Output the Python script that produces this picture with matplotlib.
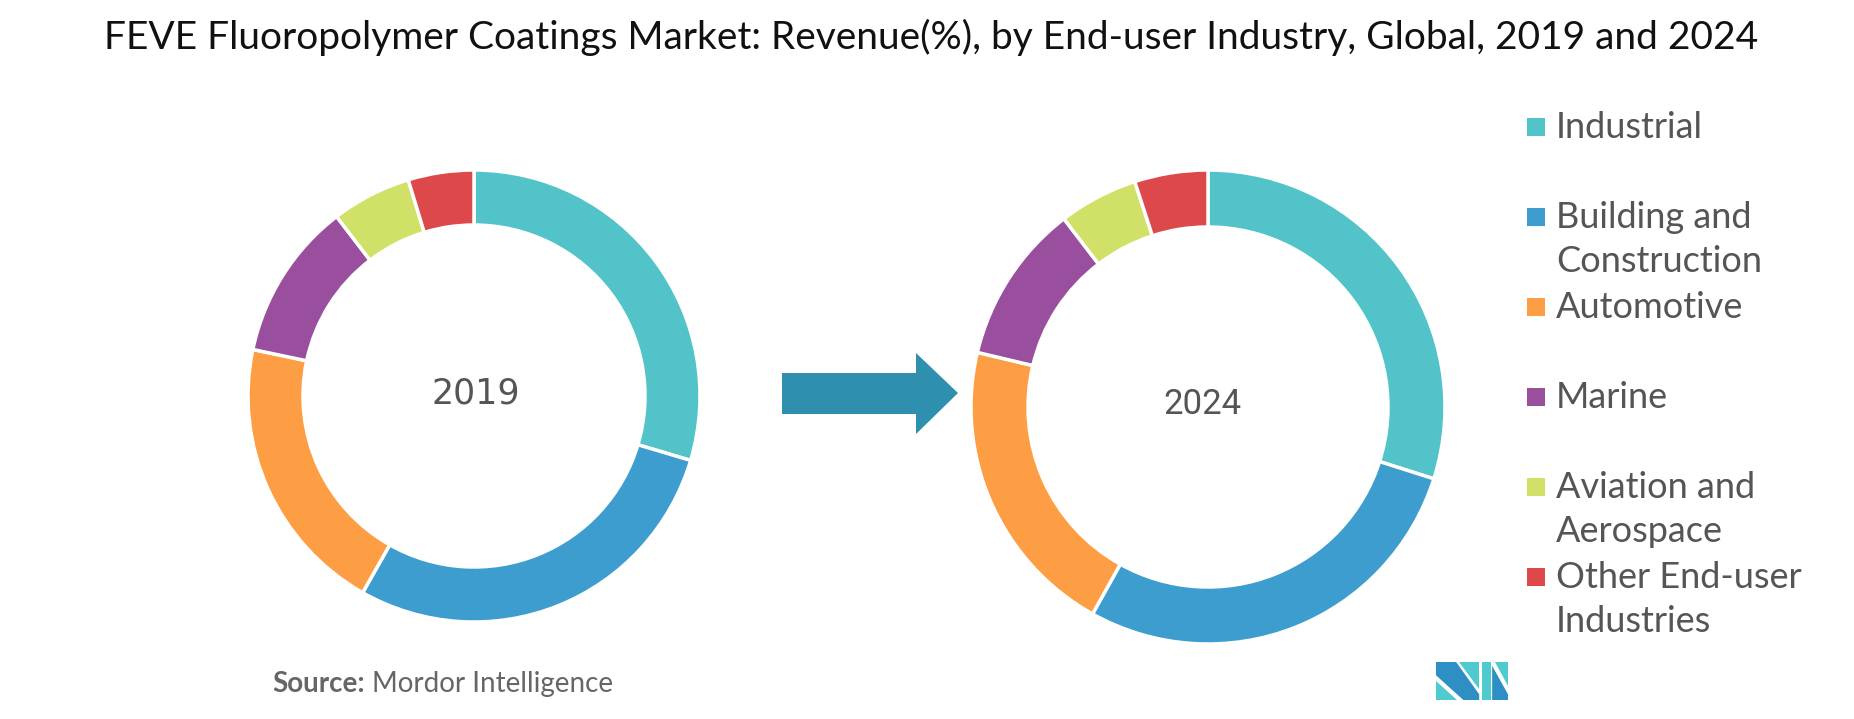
import matplotlib.pyplot as plt
from matplotlib.patches import Polygon, Rectangle

# Categories and shares (%)
categories = ["Industrial", "Building and\nConstruction", "Automotive",
              "Marine", "Aviation and\nAerospace", "Other End-user\nIndustries"]
share_2019 = [29.6, 28.6, 20.1, 11.3, 5.7, 4.7]
share_2024 = [29.9, 28.2, 20.6, 10.9, 5.4, 5.0]
years = ["2019", "2024"]

colors = ["#52C4C9", "#3D9DCE", "#FD9E44", "#9A4F9E", "#D1E066", "#DD484B"]
text_grey = "#555555"

W, H = 1854, 719
fig = plt.figure(figsize=(W / 100, H / 100), dpi=100)
ax = fig.add_axes([0, 0, 1, 1])


def iy(y):
    # image (top-down) pixel y -> axes y
    return H - y


# ----------------------------
# Donuts
# ----------------------------
donuts = [(share_2019, (474, 396), 226, 55, "DejaVu Sans", 2),
          (share_2024, (1208, 407), 237, 57, "Roboto", -6)]
for (vals, (cx, cy), r, w, fam, dx), yr in zip(donuts, years):
    ax.pie(vals, colors=colors, startangle=90, counterclock=False,
           center=(cx, iy(cy)), radius=r, frame=True,
           wedgeprops=dict(width=w, edgecolor="white", linewidth=2.5))
    ax.text(cx + dx, iy(cy - 3), yr, ha="center", va="center",
            fontsize=25, color=text_grey, family=fam)

# arrow between donuts
arrow = [(782, 373), (916, 373), (916, 353), (958, 393), (916, 434),
         (916, 414), (782, 414)]
ax.add_patch(Polygon([(x, iy(y)) for x, y in arrow], closed=True,
                     facecolor="#2E8FAE", edgecolor="none"))

# ----------------------------
# Legend (drawn by hand)
# ----------------------------
for i, (lab, col) in enumerate(zip(categories, colors)):
    y = 127 + 90 * i
    ax.add_patch(Rectangle((1527, iy(y + 9)), 18, 18, facecolor=col,
                           edgecolor="none"))
    for j, line in enumerate(lab.split("\n")):
        ax.text(1556, iy(y + 45 * j), line, ha="left", va="center",
                fontsize=26, color=text_grey, family="Lato")

# ----------------------------
# Title and source
# ----------------------------
ax.text(W / 2 + 4, iy(49), "FEVE Fluoropolymer Coatings Market: Revenue(%), by "
        "End-user Industry, Global, 2019 and 2024", ha="center",
        va="baseline", fontsize=28, color="#111111", family="Lato")

src = ax.text(272, iy(692), "Source:", ha="left", va="baseline",
              fontsize=20, color="#666666", family="Lato", weight="bold")
fig.canvas.draw()
bb = src.get_window_extent()
ax.text(272 + bb.width + 7, iy(692), "Mordor Intelligence", ha="left",
        va="baseline", fontsize=20, color="#666666", family="Lato")

# logo
lx0, ly0, lw, lh = 1436, 662, 72, 38
logo = [
    ([(0, 0), (0.28, 0), (0.60, 0.85), (0.60, 1), (0.38, 1), (0, 0.35)], "#2E8FC4"),
    ([(0, 0.5), (0, 1), (0.29, 1)], "#4FCBCF"),
    ([(0.32, 0), (0.60, 0), (0.60, 0.72)], "#4FCBCF"),
    ([(0.64, 0), (0.76, 0), (0.76, 1), (0.64, 1)], "#4FCBCF"),
    ([(0.82, 0), (1, 0), (1, 0.62)], "#4FCBCF"),
    ([(0.78, 0.1), (1, 0.85), (1, 1), (0.78, 1)], "#2E8FC4"),
]
for pts, col in logo:
    ax.add_patch(Polygon([(lx0 + u * lw, iy(ly0 + v * lh)) for u, v in pts],
                         closed=True, facecolor=col, edgecolor="none"))

ax.set_xlim(0, W)
ax.set_ylim(0, H)
ax.set_aspect("equal")
ax.axis("off")

fig.savefig("out.png", dpi=100)
